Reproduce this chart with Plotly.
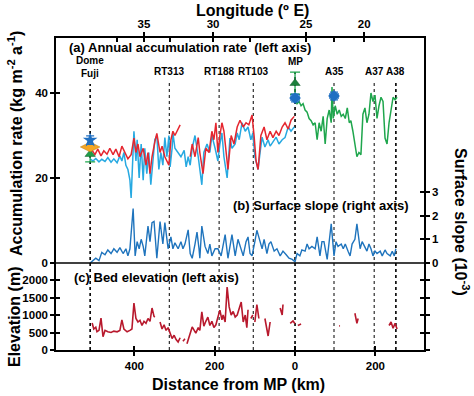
import plotly.graph_objects as go

# ---------------- data ----------------
# accumulation (kg m-2 a-1) vs distance from MP (km; negative = west of MP)
acc_blue_km = [-510, -503, -496, -488, -481, -473, -466, -458, -451, -443, -436, -431, -426, -421, -416, -411, -408, -406,
               -401, -396, -393, -388, -383, -378, -374, -369, -364, -359, -354, -349, -344, -339, -334, -329, -324, -319,
               -314, -311, -306, -304, -299, -291, -284, -276, -271, -266, -261, -256, -249, -241, -237, -232, -227, -219,
               -212, -207, -199, -192, -187, -182, -177, -169, -162, -157, -149, -144, -139, -132, -124, -117, -110, -105,
               -100, -92, -87, -82, -75, -67, -62, -55, -47, -40, -32, -25, -17, -10, -2]
acc_blue = [24.5, 24.0, 24.6, 23.8, 24.4, 23.9, 24.8, 23.7, 24.5, 23.6, 25.2, 24.0, 26.0, 23.0, 22.0, 19.5, 15.3, 20.0,
            31.0, 24.0, 29.0, 20.0, 28.0, 19.5, 27.0, 21.0, 26.0, 18.4, 24.0, 29.0, 30.0, 22.0, 26.0, 23.0, 29.5, 25.0,
            30.0, 22.6, 27.0, 30.6, 27.0, 26.0, 25.0, 26.5, 22.6, 25.0, 23.0, 27.0, 30.0, 25.0, 22.0, 18.4, 26.0, 28.0,
            26.0, 30.0, 27.0, 24.0, 28.0, 30.6, 25.0, 20.0, 29.4, 27.0, 28.0, 30.6, 29.0, 33.0, 31.0, 32.0, 29.0, 30.6,
            25.0, 22.0, 26.0, 29.6, 27.3, 29.0, 27.5, 28.5, 29.6, 28.0, 29.0, 29.5, 32.0, 31.0, 32.0]

acc_red_km = [-505, -498, -491, -483, -476, -468, -461, -453, -446, -438, -431, -423, -416, -408, -401, -396, -391, -386,
              -378, -371, -366, -361, -356, -349, -344, -336, -331, -324, -319, -314, -309, -304, -299, -291, -286, -280,
              -261, -256, -249, -241, -237, -229, -222, -214, -207, -202, -197, -192, -187, -182, -177, -172, -167, -159,
              -152, -144, -137, -129, -122, -115, -107, -102, -97, -92, -85, -77, -70, -62, -55, -47, -40, -32, -25, -17,
              -10, -2]
acc_red = [26.5, 25.5, 26.8, 25.2, 26.4, 25.6, 27.0, 25.5, 26.8, 25.0, 27.5, 26.0, 24.5, 25.5, 29.4, 26.0, 28.0, 25.0,
           27.0, 23.0, 26.0, 21.0, 25.0, 28.5, 30.5, 26.0, 27.5, 25.0, 24.0, 23.0, 29.0, 31.0, 30.0, 31.5, 32.5, None,
           25.0, 28.0, 25.0, 29.5, 26.0, 21.0, 27.0, 26.0, 31.0, 29.0, 33.0, 26.0, 30.0, 33.0, 31.0, 27.0, 22.0, 30.0,
           28.0, 32.0, 33.6, 32.0, 33.0, 32.5, 34.8, 30.0, 24.0, 22.0, 30.0, 32.0, 29.0, 31.0, 29.5, 31.0, 30.0, 32.0,
           33.0, 31.5, 33.6, 34.5]

acc_green_km = [0, 5, 10, 15, 20, 25, 30, 35, 40, 45, 50, 55, 60, 65, 70, 75, 80, 85, 90, 92, 95, 100, 105, 110, 115,
                120, 125, 130, 135, 139, 144, 149, 154, 159, 164, 169, 174, 179, 184, 189, 194, 199, 204, 209, 214, 219,
                224, 229, 234, 239, 244, 249, 254]
acc_green = [38.4, 37.5, 38.0, 37.0, 37.5, 36.0, 35.5, 34.0, 33.5, 32.5, 33.0, 29.0, 33.0, 31.0, 34.5, 28.0, 34.0, 36.0,
             33.0, 41.4, 34.0, 37.0, 35.0, 36.0, 34.5, 35.0, 34.0, 36.5, 33.0, 33.5, 31.0, 28.0, 25.0, 26.0, 25.5, 35.0,
             36.5, 33.0, 35.0, 40.0, 38.0, 39.5, 34.0, 37.0, 39.0, 38.0, 29.4, 28.0, 33.0, 36.0, 39.0, 38.4, 39.0]

# point measurements
pt_blue_km = [0, 97]
pt_blue = [38.8, 39.3]
pt_star_km = [-510]
pt_star = [28.9]
pt_diamond_km = [-510]
pt_diamond = [27.3]
pt_tri_km = [-510, 0]
pt_tri = [25.6, 42.3]
pt_tri_err = [1.8, 2.6]

# surface slope (10^-3) vs distance (km)
slope_km = [-510, -503, -496, -488, -481, -473, -466, -458, -451, -443, -436, -428, -421, -416, -411, -403, -398, -393,
            -388, -383, -378, -374, -366, -361, -356, -351, -346, -344, -336, -329, -324, -316, -309, -304, -299, -291,
            -284, -279, -274, -266, -261, -256, -249, -244, -239, -237, -232, -224, -217, -212, -207, -199, -192, -184,
            -174, -167, -157, -149, -142, -134, -129, -122, -117, -112, -107, -100, -95, -87, -82, -77, -70, -65, -60,
            -52, -45, -37, -30, -22, -15, -7, 0, 5, 12, 17, 25, 30, 35, 42, 50, 55, 62, 67, 72, 80, 85, 90, 97, 102,
            107, 115, 120, 125, 132, 137, 142, 149, 154, 162, 167, 172, 179, 184, 189, 194, 199, 204, 212, 217, 224,
            229, 237, 242, 247, 251]
slope = [0.0, 0.1, 0.2, 0.1, 0.45, 0.35, 0.55, 0.4, 0.6, 0.45, 0.65, 0.4, 0.6, 0.3, 0.6, 2.3, 0.3, 0.9,
         0.6, 1.0, 0.7, 0.3, 1.56, 0.9, 1.7, 1.75, 0.6, 0.2, 1.75, 0.8, 1.7, 0.6, 1.1, 0.6, 0.85, 0.6,
         0.9, 0.6, 0.8, 1.4, 0.4, 0.2, 0.8, 1.3, 0.6, 0.2, 1.56, 0.7, 0.4, 0.8, 0.3, 0.6, 0.6, 0.3,
         1.2, 0.2, 1.2, 0.3, 1.0, 0.5, 0.3, 0.9, 1.1, 0.4, 0.3, 0.9, 1.38, 0.9, 0.6, 1.0, 0.4, 0.8, 0.9,
         0.5, 0.6, 0.3, 0.5, 0.35, 0.2, 0.15, 0.05, 0.4, 0.3, 0.55, 0.5, 0.8, 0.6, 0.7, 0.6, 1.1, 0.3, 0.9, 0.9,
         0.15, 0.8, 1.65, 0.3, 0.9, 0.7, 0.8, 0.6, 0.8, 0.5, 0.3, 0.8, 1.0, 1.65, 0.6, 0.9, 0.7, 0.5, 0.8, 0.6,
         0.3, 0.5, 0.4, 0.5, 0.3, 0.55, 0.4, 0.3, 0.5, 0.3, 0.6]

# bed elevation (m) vs distance (km); None = no data
elev_km = [-505, -501, -496, -493, -488, -483, -478, -473, -466, -458, -451, -443, -436, -431, -426, -418, -411, -406,
           -401, -396, -391, -386, -381, -376, -371, -366, -361, -356, -351, -349, -346,
           -336, -331, -326, -321, -316, -311, -306, -301, -296, -291, -286, -283,
           -279, -274, -272, -269, -264, -256, -251, -247, -241, -237, -232, -227, -222, -217, -212, -207, -202, -197,
           -192, -187, -182, -179, -174, -169, -164, -159, -154, -149, -144, -139, -134, -129, -124, -120, -117, -115,
           -110, -105, -102, -100, -95, -90, -88,
           -75, -70, -67, -62, -58, -37, -32, -30, -27, -12, -5, 0, 3, 7, 15, 20, 110, 112, 114, 149, 154, 157, 160,
           234, 239, 244, 249, 254]
elev = [770, 600, 650, 520, 560, 910, 380, 560, 520, 500, 540, 520, 560, 860, 600, 520, 560, 600,
        1340, 900, 800, 850, 700, 820, 760, 900, 820, 1200, 960, 940, None,
        800, 600, 720, 560, 640, 450, 330, 420, 300, 230, 350, None,
        250, 320, None, 180, 350, 660, 560, 480, 640, 560, 1090, 680, 820, 940, 700, 820, 640, 720,
        940, 1140, 860, 1000, 800, 1800, 1230, 1000, 1100, 940, 1000, 1200, 1370, 800, 1000, 640, 1150, None,
        900, 1000, None, 800, 1300, 900, None,
        900, 600, 400, 800, None, 1200, 1000, 1300, None, 760, 830, 750, None, 700, 740, None, 690, 690, None,
        1050, 760, 900, None, 700, 800, 620, 760, 600]

# stations
station_names = ["Dome<br>Fuji", "RT313", "RT188", "RT103", "MP", "A35", "A37", "A38"]
station_km = [-510, -313, -189, -104, 0, 97, 197, 251]

# axis ticks
dist_tickvals = [-400, -200, 0, 200]
dist_ticktext = ["400", "200", "0", "200"]
lon_tickvals = [-376, -204, 27, 172]
lon_ticktext = ["35", "30", "25", "20"]
lon_minor_tickvals = [-443, -311, -112, 97]
acc_ticks = [0, 20, 40]
slope_ticks = [0, 1, 2, 3]
elev_ticks = [0, 500, 1000, 1500, 2000]

# ---------------- figure ----------------
FONT = "Liberation Sans, Arial, sans-serif"
BLUE_ACC = "#27a9e1"
RED_ACC = "#e5262f"
GREEN_ACC = "#1fa64d"
SLOPE_BLUE = "#1f74bd"
ELEV_RED = "#b8192d"

PLOT_TOP, PLOT_BOT = 38, 350
H = PLOT_BOT - PLOT_TOP
split = (PLOT_BOT - 263) / H  # boundary between panel (c) and panels (a,b)


def py(px):
    return (PLOT_BOT - px) / H


def pxx(px):
    return (px - 56) / 368


fig = go.Figure()

fig.add_trace(go.Scatter(x=acc_blue_km, y=acc_blue, mode="lines", line=dict(color=BLUE_ACC, width=1.5),
                         xaxis="x", yaxis="y"))
fig.add_trace(go.Scatter(x=acc_red_km, y=acc_red, mode="lines", line=dict(color=RED_ACC, width=1.5),
                         xaxis="x", yaxis="y", connectgaps=False))
fig.add_trace(go.Scatter(x=acc_green_km, y=acc_green, mode="lines", line=dict(color=GREEN_ACC, width=1.5),
                         xaxis="x", yaxis="y"))

# point measurements
fig.add_trace(go.Scatter(x=pt_tri_km, y=pt_tri, mode="markers",
                         marker=dict(symbol="triangle-up", size=9, color=["#1f9e4a", "#1b7f3b"],
                                     line=dict(width=0.5, color="#145c2b")),
                         error_y=dict(type="data", array=pt_tri_err, color="#1fa64d", thickness=1.3, width=5),
                         xaxis="x", yaxis="y"))
fig.add_trace(go.Scatter(x=pt_diamond_km, y=pt_diamond, mode="markers",
                         marker=dict(symbol="diamond-wide", size=14, color="#f5a623",
                                     line=dict(width=0.5, color="#b87a10")),
                         xaxis="x", yaxis="y"))
fig.add_trace(go.Scatter(x=pt_star_km, y=pt_star, mode="markers",
                         marker=dict(symbol="star", size=11, color="#1f6fc2"),
                         error_y=dict(type="constant", value=1.0, color="#1f6fc2", thickness=1.3, width=4),
                         xaxis="x", yaxis="y"))
fig.add_trace(go.Scatter(x=pt_blue_km, y=pt_blue, mode="markers",
                         marker=dict(symbol="diamond", size=9, color="#1f6fc2"),
                         error_y=dict(type="constant", value=0.9, color="#1f6fc2", thickness=1.3, width=4),
                         error_x=dict(type="constant", value=10, color="#1f6fc2", thickness=1.3, width=3),
                         xaxis="x", yaxis="y"))

fig.add_trace(go.Scatter(x=slope_km, y=slope, mode="lines", line=dict(color=SLOPE_BLUE, width=1.4),
                         xaxis="x", yaxis="y2"))
fig.add_trace(go.Scatter(x=elev_km, y=elev, mode="lines", line=dict(color=ELEV_RED, width=1.6),
                         xaxis="x", yaxis="y3", connectgaps=False))
# invisible trace so the top (longitude) axis is drawn
fig.add_trace(go.Scatter(x=[lon_tickvals[0]], y=[None], mode="markers", xaxis="x2", yaxis="y",
                         hoverinfo="skip"))

tickfont = dict(family=FONT, size=11.5, color="black", weight="bold")
axis_common = dict(showline=True, linecolor="black", linewidth=1.5, ticks="outside", ticklen=4,
                   tickwidth=1.5, tickcolor="black", showgrid=False, zeroline=False, tickfont=tickfont)


def inner_ticks(vals):
    # inward half of the crossing tick marks
    return dict(tickvals=vals, ticks="inside", ticklen=4, tickwidth=1.5, tickcolor="black", showgrid=False)


XR = [-595, 321]
fig.update_layout(
    width=474, height=396,
    margin=dict(l=56, r=50, t=PLOT_TOP, b=396 - PLOT_BOT),
    paper_bgcolor="white", plot_bgcolor="white",
    showlegend=False,
    xaxis=dict(domain=[0, 1], range=XR, anchor="y3", tickvals=dist_tickvals, ticktext=dist_ticktext,
               minor=inner_ticks(dist_tickvals), **axis_common),
    xaxis2=dict(domain=[0, 1], range=XR, overlaying="x", side="top", anchor="y",
                tickvals=lon_tickvals + lon_minor_tickvals, ticktext=lon_ticktext + [""] * len(lon_minor_tickvals),
                minor=inner_ticks(lon_tickvals + lon_minor_tickvals),
                **axis_common),
    yaxis=dict(domain=[split, 1], range=[0, 52.94], anchor="x", tickvals=acc_ticks,
               minor=inner_ticks(acc_ticks[1:]), **axis_common),
    yaxis2=dict(domain=[split, 1], range=[0, 9.49], anchor="x", overlaying="y", side="right",
                tickvals=slope_ticks, minor=inner_ticks(slope_ticks[1:]), **axis_common),
    yaxis3=dict(domain=[0, split], range=[0, 2486], anchor="x", tickvals=elev_ticks, mirror="ticks",
                minor=inner_ticks(elev_ticks[1:]), **axis_common),
)

shapes = []
# separator between panel (b) and (c)
shapes.append(dict(type="line", xref="paper", yref="paper", x0=0, x1=1, y0=split, y1=split,
                   line=dict(color="black", width=1.5)))
# station dotted lines
line_tops = [84, 82, 82, 82, 72, 82, 82, 82]
line_w = [1.6, 1.0, 1.0, 1.0, 1.6, 1.0, 1.0, 1.6]
for km, top, w in zip(station_km, line_tops, line_w):
    shapes.append(dict(type="line", xref="x", yref="paper", x0=km, x1=km, y0=0, y1=py(top),
                       line=dict(color="black", width=w, dash="dot"), layer="below"))
fig.update_layout(shapes=shapes)

ann = []
label_y = [81, 79, 79, 79, 69, 79, 79, 79]
for name, km, ly in zip(station_names, station_km, label_y):
    ann.append(dict(x=km, y=py(ly), xref="x", yref="paper", text=name, showarrow=False,
                    xanchor="center", yanchor="bottom",
                    font=dict(family=FONT, size=10, color="black", weight="bold")))

title_font = dict(family=FONT, size=16, color="black", weight="bold")
panel_font = dict(family=FONT, size=13, color="black", weight="bold")


def label(xp, yp, text, font, xanchor="center", angle=0):
    return dict(x=pxx(xp), y=py(yp), xref="paper", yref="paper", xanchor=xanchor, yanchor="middle",
                showarrow=False, text=text, font=font, textangle=angle)


ann += [
    label(67, 47, "(a) Annual accumulation rate  (left axis)", panel_font, "left"),
    label(411, 205, "(b) Surface slope (right axis)", panel_font, "right"),
    label(72, 277, "(c) Bed elevation (left axis)", panel_font, "left"),
    label(252, 10, "Longitude (º E)", title_font),
    label(238, 384, "Distance from MP (km)", title_font),
    label(15, 144, "Accumulation rate (kg m<sup>-2</sup> a<sup>-1</sup>)", title_font, angle=-90),
    label(14, 317, "Elevation (m)", title_font, angle=-90),
    label(462, 222, "Surface slope (10<sup>-3</sup>)", title_font, angle=90),
]
fig.update_layout(annotations=ann)

fig.write_html("out.html", config={"displayModeBar": False},
               post_script="document.body.style.margin='0';document.body.style.overflow='hidden';")
